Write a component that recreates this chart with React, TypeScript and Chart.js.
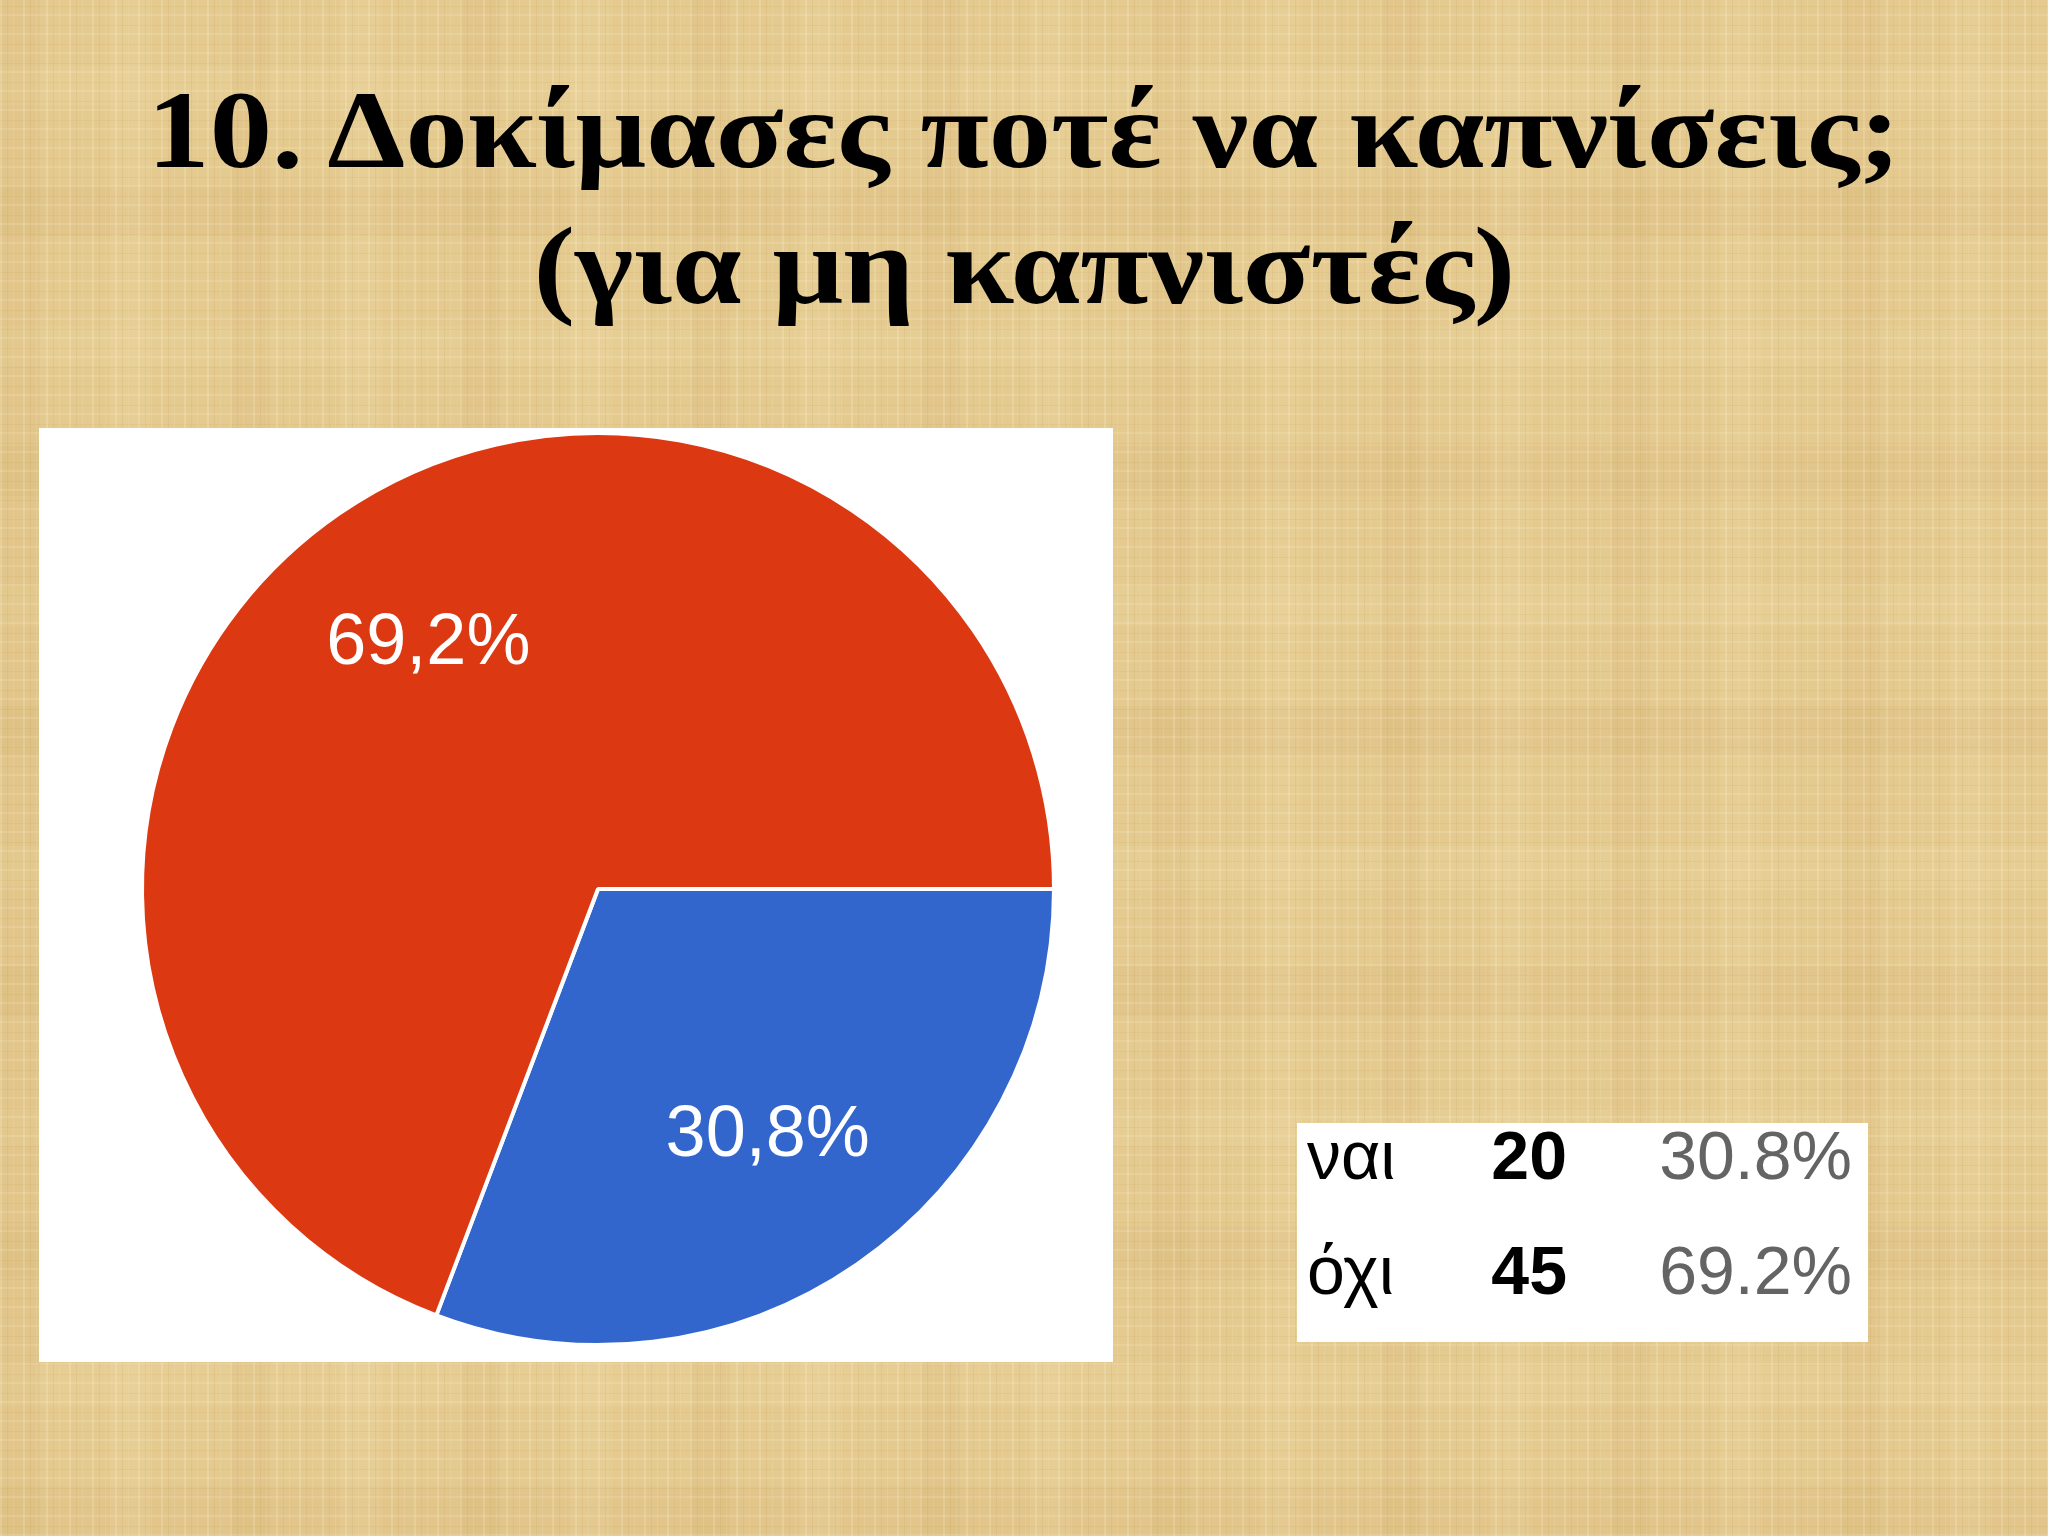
import React, { useEffect, useRef, useState } from "react";
import { Chart, registerables } from "chart.js";

Chart.register(...registerables);

const titleLines = ["10. Δοκίμασες ποτέ να καπνίσεις;", "(για μη καπνιστές)"];
const categories = ["ναι", "όχι"];
const counts = [20, 45];
const sliceColors = ["#3366CC", "#DC3912"];

const total = counts.reduce((a, b) => a + b, 0);
const pct = (v: number) => ((v / total) * 100).toFixed(1);

const labelPlugin = {
  id: "sliceLabels",
  afterDatasetsDraw(chart: any) {
    const ctx = chart.ctx;
    const meta = chart.getDatasetMeta(0);
    ctx.save();
    ctx.fillStyle = "#ffffff";
    ctx.font = "72px 'Liberation Sans', Arial, sans-serif";
    ctx.textAlign = "center";
    ctx.textBaseline = "middle";
    meta.data.forEach((arc: any, i: number) => {
      const p = arc.getProps(["x", "y", "startAngle", "endAngle", "outerRadius"], true);
      const mid = (p.startAngle + p.endAngle) / 2;
      const r = p.outerRadius * 0.655;
      const text = pct(counts[i]).replace(".", ",") + "%";
      ctx.fillText(text, p.x + Math.cos(mid) * r, p.y + Math.sin(mid) * r + 1);
    });
    ctx.restore();
  },
};

const TITLE_FONT = "bold 110px 'Liberation Serif', 'DejaVu Serif', serif";
const TITLE_TARGET_WIDTH = 1760;

export default function App() {
  const ref = useRef<HTMLCanvasElement>(null);
  const [scaleX, setScaleX] = useState(1);

  useEffect(() => {
    const m = document.createElement("canvas").getContext("2d");
    if (m) {
      m.font = TITLE_FONT;
      const w = m.measureText(titleLines[0]).width;
      if (w > 0) setScaleX(TITLE_TARGET_WIDTH / w);
    }
    const chart = new Chart(ref.current as HTMLCanvasElement, {
      type: "pie",
      data: {
        labels: categories,
        datasets: [
          {
            data: counts,
            backgroundColor: sliceColors,
            borderColor: "#ffffff",
            borderWidth: 4,
          },
        ],
      },
      options: {
        animation: false,
        responsive: false,
        rotation: 90,
        radius: 456,
        events: [],
        plugins: { legend: { display: false }, tooltip: { enabled: false } },
      } as any,
      plugins: [labelPlugin],
    });
    return () => chart.destroy();
  }, []);

  const texture =
    "repeating-linear-gradient(90deg, rgba(255,250,225,0.18) 0 2px, transparent 2px 7px, rgba(160,110,40,0.08) 7px 8px, transparent 8px 13px, rgba(255,250,225,0.10) 13px 14px, transparent 14px 23px)," +
    "repeating-linear-gradient(0deg, rgba(255,250,225,0.14) 0 2px, transparent 2px 9px, rgba(160,110,40,0.07) 9px 10px, transparent 10px 19px)," +
    "repeating-linear-gradient(90deg, rgba(180,130,60,0.06) 0 40px, transparent 40px 110px, rgba(255,245,210,0.08) 110px 150px, transparent 150px 230px)," +
    "repeating-linear-gradient(0deg, rgba(180,130,60,0.06) 0 50px, transparent 50px 130px, rgba(255,245,210,0.07) 130px 170px, transparent 170px 260px)";

  const tableFont = "'Liberation Sans', Arial, sans-serif";
  const rowTops = [1121, 1236];

  return (
    <div
      style={{
        position: "absolute",
        left: 0,
        top: 0,
        width: 2048,
        height: 1536,
        overflow: "hidden",
        backgroundColor: "#E4CA8F",
        backgroundImage: texture,
      }}
    >
      {titleLines.map((line, i) => (
        <div
          key={i}
          style={{
            position: "absolute",
            left: 0,
            top: 62 + i * 136,
            width: 2048,
            textAlign: "center",
            font: TITLE_FONT,
            lineHeight: "136px",
            color: "#000",
            whiteSpace: "nowrap",
          }}
        >
          <span style={{ display: "inline-block", transform: `scaleX(${scaleX})`, transformOrigin: "center" }}>
            {line}
          </span>
        </div>
      ))}

      <div
        style={{
          position: "absolute",
          left: 39,
          top: 428,
          width: 1074,
          height: 934,
          background: "#ffffff",
        }}
      />
      <canvas
        ref={ref}
        width={940}
        height={940}
        style={{ position: "absolute", left: 128, top: 419, width: 940, height: 940 }}
      />

      <div
        style={{
          position: "absolute",
          left: 1297,
          top: 1123,
          width: 571,
          height: 219,
          background: "#ffffff",
        }}
      />
      {categories.map((c, i) => (
        <React.Fragment key={c}>
          <div
            style={{
              position: "absolute",
              left: 1307,
              top: rowTops[i],
              font: `68px ${tableFont}`,
              lineHeight: "68px",
              color: "#000",
              whiteSpace: "nowrap",
            }}
          >
            {c}
          </div>
          <div
            style={{
              position: "absolute",
              left: 1400,
              width: 167,
              top: rowTops[i],
              textAlign: "right",
              font: `bold 68px ${tableFont}`,
              lineHeight: "68px",
              color: "#000",
              whiteSpace: "nowrap",
            }}
          >
            {counts[i]}
          </div>
          <div
            style={{
              position: "absolute",
              left: 1600,
              width: 252,
              top: rowTops[i],
              textAlign: "right",
              font: `68px ${tableFont}`,
              lineHeight: "68px",
              color: "#646464",
              whiteSpace: "nowrap",
            }}
          >
            {pct(counts[i])}%
          </div>
        </React.Fragment>
      ))}
    </div>
  );
}
